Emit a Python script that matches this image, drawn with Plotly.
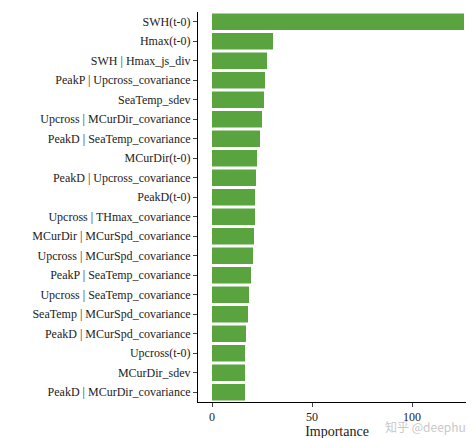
import plotly.graph_objects as go

features = ["SWH(t-0)", "Hmax(t-0)", "SWH | Hmax_js_div", "PeakP | Upcross_covariance",
            "SeaTemp_sdev", "Upcross | MCurDir_covariance", "PeakD | SeaTemp_covariance",
            "MCurDir(t-0)", "PeakD | Upcross_covariance", "PeakD(t-0)",
            "Upcross | THmax_covariance", "MCurDir | MCurSpd_covariance",
            "Upcross | MCurSpd_covariance", "PeakP | SeaTemp_covariance",
            "Upcross | SeaTemp_covariance", "SeaTemp | MCurSpd_covariance",
            "PeakD | MCurSpd_covariance", "Upcross(t-0)", "MCurDir_sdev",
            "PeakD | MCurDir_covariance"]
importance = [126, 30.5, 27.5, 26.5, 26, 25, 24, 22.5, 22, 21.5,
              21.5, 21, 20.5, 19.5, 18.5, 18, 17, 16.5, 16.5, 16.5]
x_ticks = [0, 50, 100]

fig = go.Figure(go.Bar(x=importance, y=features, orientation="h",
                       marker=dict(color="#5aa440", line=dict(width=0)), width=0.85))
fig.update_layout(
    width=474, height=438, plot_bgcolor="white", paper_bgcolor="white",
    margin=dict(l=190, r=6, t=4, b=44),
    font=dict(family="Liberation Serif", size=12, color="#222"),
    showlegend=False,
    annotations=[dict(text="知乎 @deephub", x=0.995, y=-0.035, xref="paper", yref="paper",
                      xanchor="right", yanchor="top", showarrow=False,
                      font=dict(family="Noto Sans CJK SC", size=12, color="#c8c8c8"))],
)
fig.update_xaxes(range=[-7, 132], tickvals=x_ticks, showgrid=False, zeroline=False,
                 showline=True, linecolor="black", ticks="outside", ticklen=4,
                 title=dict(text="Importance", standoff=2))
fig.update_yaxes(autorange="reversed", showgrid=False, showline=True, linecolor="black",
                 ticks="outside", ticklen=4, range=[19.6, -0.6])
fig.write_html("out.html")
